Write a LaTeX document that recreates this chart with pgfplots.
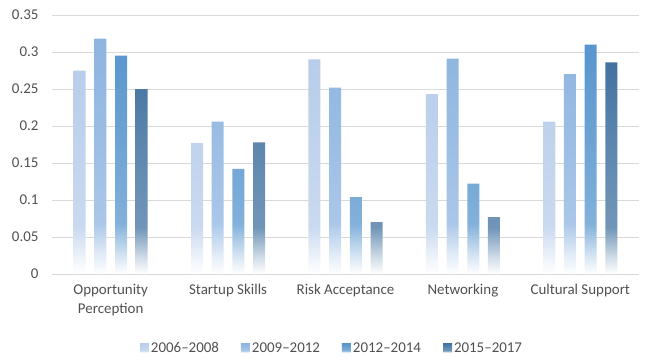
\documentclass[border=0pt]{standalone}
\usepackage{pgfplots}
\pgfplotsset{compat=1.18}
\usepackage{fontspec}
\setmainfont{Carlito}
\definecolor{txt}{RGB}{80,80,80}
\definecolor{grd}{RGB}{217,217,217}
\definecolor{ca}{RGB}{184,205,234}
\definecolor{cb}{RGB}{141,180,224}
\definecolor{cc}{RGB}{88,150,206}
\definecolor{cd}{RGB}{66,114,160}
\pgfdeclareverticalshading{shA}{100bp}{color(0bp)=(white); color(25bp)=(white); color(29bp)=(ca!25); color(36bp)=(ca!75); color(55bp)=(ca!88); color(75bp)=(ca); color(100bp)=(ca)}
\pgfdeclareverticalshading{shB}{100bp}{color(0bp)=(white); color(25bp)=(white); color(29bp)=(cb!25); color(36bp)=(cb!75); color(55bp)=(cb!88); color(75bp)=(cb); color(100bp)=(cb)}
\pgfdeclareverticalshading{shC}{100bp}{color(0bp)=(white); color(25bp)=(white); color(29bp)=(cc!25); color(36bp)=(cc!75); color(55bp)=(cc!88); color(75bp)=(cc); color(100bp)=(cc)}
\pgfdeclareverticalshading{shD}{100bp}{color(0bp)=(white); color(25bp)=(white); color(29bp)=(cd!25); color(36bp)=(cd!75); color(55bp)=(cd!85); color(75bp)=(cd); color(100bp)=(cd)}
\begin{document}
\begin{tikzpicture}
\begin{axis}[
  width=587bp, height=259bp, scale only axis,
  xmin=-0.5, xmax=4.5, ymin=0, ymax=0.35,
  ybar=8.7bp, bar width=12bp,
  xtick={0,1,2,3,4},
  xticklabels={{Opportunity\\Perception},{Startup Skills},{Risk Acceptance},{Networking},{Cultural Support}},
  ytick={0,0.05,0.1,0.15,0.2,0.25,0.3,0.35},
  yticklabels={0,0.05,0.1,0.15,0.2,0.25,0.3,0.35},
  ymajorgrids, major grid style={draw=grd, line width=0.9bp},
  axis line style={draw=none},
  major tick length=0pt,
  tick label style={font=\fontsize{15}{19}\selectfont, text=txt},
  xticklabel style={align=center, anchor=north, yshift=-7bp},
  yticklabel style={anchor=east, xshift=-10bp},
  legend columns=4,
  legend style={at={(0.477,-0.286)}, anchor=center, draw=none, fill=none,
    font=\fontsize{15}{18}\selectfont, text=txt,
    /tikz/every even column/.append style={column sep=20bp},
    inner sep=0pt},
  legend cell align=left,
]
\addplot[draw=none, shading=shA, legend image code/.code={\fill[ca] (4bp,-4.5bp) rectangle (13bp,4.5bp);}]
  coordinates {(0,0.275) (1,0.177) (2,0.290) (3,0.243) (4,0.206)};
\addplot[draw=none, shading=shB, legend image code/.code={\fill[cb] (4bp,-4.5bp) rectangle (13bp,4.5bp);}]
  coordinates {(0,0.318) (1,0.206) (2,0.252) (3,0.291) (4,0.270)};
\addplot[draw=none, shading=shC, legend image code/.code={\fill[cc] (4bp,-4.5bp) rectangle (13bp,4.5bp);}]
  coordinates {(0,0.295) (1,0.142) (2,0.104) (3,0.122) (4,0.310)};
\addplot[draw=none, shading=shD, legend image code/.code={\fill[cd] (4bp,-4.5bp) rectangle (13bp,4.5bp);}]
  coordinates {(0,0.250) (1,0.178) (2,0.070) (3,0.077) (4,0.286)};
\legend{2006--2008, 2009--2012, 2012--2014, 2015--2017}
\end{axis}
\pgfresetboundingbox
\path (current axis.south west) ++(-52bp,-90bp) rectangle ++(651bp,364bp);
\end{tikzpicture}
\end{document}
